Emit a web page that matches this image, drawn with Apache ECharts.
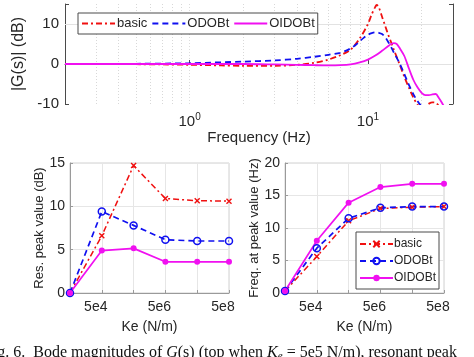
<!DOCTYPE html>
<html><head><meta charset="utf-8">
<script src="https://cdn.jsdelivr.net/npm/echarts@6/dist/echarts.min.js"></script>
<style>html,body{margin:0;padding:0;background:#fff;}#c{width:474px;height:357px;}</style>
</head><body><div id="c"></div>
<script>
// ---- Top: Bode magnitude |G(s)| (dB) vs frequency (Hz) ----
const basicFreq = [0.2,0.3,0.5,0.7,1,1.5,2,3,4,5,6,7,8,9,10,10.5,11,11.2,11.5,12,12.5,13,13.5,14,15,16,17,18,19,20,21,22,23,24,25,26,28,30];
const basicMag  = [0,0,-0.05,-0.1,-0.2,-0.35,-0.45,-0.45,-0.2,0.3,1.1,2.2,3.6,6.4,10,12.4,14.3,14.75,14.2,11.8,9.5,7.3,5.4,3.5,0.1,-3.2,-6,-8.4,-10.2,-11,-10.6,-9.9,-9.6,-9.7,-10.5,-12,-14,-16];
const odobFreq  = [0.2,0.5,1,2,3,4,5,6,7,7.5,8,8.5,9,9.5,10,10.5,11,11.5,12,12.5,13,13.5,14,15,16,17,18,19,20,22,25,30];
const odobMag   = [0,0.05,0.2,0.6,0.9,1.3,1.8,2.3,2.8,3.3,3.9,4.7,5.7,6.6,7.3,7.7,7.9,7.8,7.5,6.7,5.5,4.2,2.8,0.3,-2.5,-5.3,-7.6,-9.3,-10.6,-12.5,-15,-18];
const oidobFreq = [0.2,0.5,1,2,3,4,5,6,7,8,9,10,11,12,13,13.5,14,14.5,15,16,17,18,19,20,21,22,23,24,25,26,27,28,30];
const oidobMag  = [0,0,0,0,-0.1,-0.2,-0.3,-0.35,-0.3,-0.1,0.4,1.1,2.1,3.3,4.5,5.0,5.2,5.0,4.1,2.0,-1.2,-4,-5.9,-7.2,-7.8,-7.8,-7.6,-7.5,-8.5,-9.7,-11,-12.5,-15];
const minorFreqs = [0.3,0.4,0.5,0.6,0.7,0.8,0.9,2,3,4,5,6,7,8,9,20];
const magTicks = [-10, 0, 10];

// ---- Bottom: resonant peak value and its frequency vs Ke ----
const keCats = ['5e3','5e4','5e5','5e6','5e7','5e8'];
const keShown = ['5e4','5e6','5e8'];
const peakBasic = [0,6.6,14.7,10.9,10.65,10.6];
const peakOdob  = [0,9.4,7.8,6.15,6.0,6.0];
const peakOidob = [0,4.9,5.15,3.6,3.6,3.6];
const freqBasic = [0.3,5.6,11.1,13.0,13.2,13.3];
const freqOdob  = [0.3,6.9,11.5,13.1,13.3,13.3];
const freqOidob = [0.3,8.05,13.9,16.3,16.8,16.8];

const RED = '#f01010', BLUE = '#1010f0', MAG = '#f010f0';
const TXT = '#262626';
const FONT = 'Liberation Sans, Arial, sans-serif';
const CROSS = 'path://M0,0L10,10M0,10L10,0';
const AX = '#4a4a4a';

const chart = echarts.init(document.getElementById('c'), null, {renderer: 'canvas'});
const zip = (a, b) => a.map((v, i) => [v, b[i]]);

function botX(gi) {
  return {
    type: 'category', gridIndex: gi, data: keCats, boundaryGap: false,
    axisLine: {lineStyle: {color: '#9a9a9a'}},
    axisTick: {inside: true, length: 3, interval: 0, lineStyle: {color: '#9a9a9a'}},
    axisLabel: {color: TXT, fontSize: 14, fontFamily: FONT, margin: 7, padding: [0, 12, 0, 0],
      interval: 0, formatter: v => keShown.indexOf(v) >= 0 ? v : ''},
    splitLine: {show: true, interval: 0, lineStyle: {color: '#e6e6e6'}},
    name: 'Ke (N/m)', nameLocation: 'middle', nameGap: 27,
    nameTextStyle: {color: TXT, fontSize: 14, fontFamily: FONT}
  };
}
function botY(gi, max, name, gap, fs) {
  return {
    type: 'value', gridIndex: gi, min: 0, max: max, interval: 5,
    axisLine: {show: true, lineStyle: {color: '#9a9a9a'}},
    axisTick: {show: true, inside: true, length: 3, lineStyle: {color: '#9a9a9a'}},
    axisLabel: {color: TXT, fontSize: 14, fontFamily: FONT, margin: 5},
    splitLine: {show: true, lineStyle: {color: '#e6e6e6'}},
    name: name, nameLocation: 'middle', nameGap: gap,
    nameTextStyle: {color: TXT, fontSize: fs, fontFamily: FONT}
  };
}

const gridLineData = minorFreqs.map(f => ({xAxis: f}))
  .concat(magTicks.filter(v => v > -10).map(v => ({yAxis: v, lineStyle: {color: '#e2e2e2', type: 'solid'}})));

const option = {
  animation: false,
  backgroundColor: '#fff',
  textStyle: {fontFamily: FONT},
  grid: [
    {left: 65, right: 21, top: 4, height: 100, show: false},
    {left: 70, right: 245, top: 163, height: 130, show: true, borderColor: '#d0d0d0', borderWidth: 1},
    {left: 285, right: 30, top: 163, height: 130, show: true, borderColor: '#d0d0d0', borderWidth: 1}
  ],
  legend: [
    {
      left: 78, top: 13, orient: 'horizontal',
      data: ['basic', 'ODOBt', 'OIDOBt'],
      itemWidth: 33, itemHeight: 14, itemGap: 4,
      padding: [4, 3, 4, 3],
      backgroundColor: '#fff', borderColor: AX, borderWidth: 1,
      itemStyle: {opacity: 0},
      textStyle: {color: TXT, fontSize: 13, fontFamily: FONT, padding: [0, 0, 0, -3]}
    },
    {
      left: 356, top: 232, orient: 'vertical',
      data: ['basic ', 'ODOBt ', 'OIDOBt '],
      formatter: n => n.trim(),
      itemWidth: 33, itemHeight: 8, itemGap: 3,
      padding: [5, 3, 4, 3],
      backgroundColor: '#fff', borderColor: AX, borderWidth: 1,
      textStyle: {color: TXT, fontSize: 12, fontFamily: FONT, padding: [0, 0, 0, -4], lineHeight: 14}
    }
  ],
  xAxis: [
    {
      type: 'log', logBase: 10, gridIndex: 0, min: 0.2, max: 30,
      axisLine: {lineStyle: {color: AX}},
      axisTick: {inside: true, length: 4, lineStyle: {color: AX}},
      axisLabel: {
        color: TXT, fontSize: 15, fontFamily: FONT, margin: 8,
        formatter: v => {
          const l = Math.log10(v), r = Math.round(l);
          if (Math.abs(l - r) < 1e-6 && r >= 0) return '{b|10}{s|' + r + '}';
          return '';
        },
        rich: {b: {fontSize: 15, color: TXT, fontFamily: FONT}, s: {fontSize: 10, color: TXT, fontFamily: FONT, padding: [0, 0, 9, 0]}}
      },
      splitLine: {show: true, lineStyle: {color: '#dcdcdc', type: [1, 2]}},
      name: 'Frequency (Hz)', nameLocation: 'middle', nameGap: 15,
      nameTextStyle: {color: TXT, fontSize: 15, fontFamily: FONT}
    },
    botX(1), botX(2)
  ],
  yAxis: [
    {
      type: 'value', gridIndex: 0, min: -10, max: 15, interval: 10,
      axisLine: {show: true, lineStyle: {color: AX}},
      axisTick: {show: true, inside: true, length: 4, lineStyle: {color: AX}},
      axisLabel: {color: TXT, fontSize: 15, fontFamily: FONT, margin: 6,
        formatter: v => magTicks.indexOf(v) >= 0 ? String(v) : ''},
      splitLine: {show: false},
      name: '|G(s)| (dB)', nameLocation: 'middle', nameGap: 25,
      nameTextStyle: {color: TXT, fontSize: 16, fontFamily: FONT}
    },
    botY(1, 15, 'Res. peak value (dB)', 21, 13),
    botY(2, 20, 'Freq. at peak value (Hz)', 19, 13),
    {
      type: 'value', gridIndex: 0, min: -10, max: 15, interval: 10, position: 'right',
      axisLine: {show: true, lineStyle: {color: AX}}, axisLabel: {show: false}, splitLine: {show: false},
      axisTick: {show: true, inside: true, length: 4, lineStyle: {color: AX}}
    }
  ],
  series: [
    {
      type: 'line', name: 'basic', xAxisIndex: 0, yAxisIndex: 0, data: zip(basicFreq, basicMag),
      showSymbol: false, symbol: 'none', smooth: 0.3, clip: true,
      lineStyle: {color: RED, width: 1.8, type: [6, 3, 2, 3]}, itemStyle: {color: RED},
      markLine: {
        silent: true, symbol: 'none', label: {show: false}, animation: false, z: 1,
        lineStyle: {color: '#d8d8d8', width: 1, type: [1, 2]},
        data: gridLineData
      }
    },
    {
      type: 'line', name: 'ODOBt', xAxisIndex: 0, yAxisIndex: 0, data: zip(odobFreq, odobMag),
      showSymbol: false, symbol: 'none', smooth: 0.3, clip: true,
      lineStyle: {color: BLUE, width: 1.8, type: [6, 4]}, itemStyle: {color: BLUE}
    },
    {
      type: 'line', name: 'OIDOBt', xAxisIndex: 0, yAxisIndex: 0, data: zip(oidobFreq, oidobMag),
      showSymbol: false, symbol: 'none', smooth: 0.3, clip: true,
      lineStyle: {color: MAG, width: 1.8}, itemStyle: {color: MAG}
    },
    // bottom-left
    {
      type: 'line', name: 'basic ', xAxisIndex: 1, yAxisIndex: 1, data: peakBasic,
      symbol: CROSS, symbolSize: 5, showSymbol: true,
      lineStyle: {color: RED, width: 1.5, type: [6, 3, 2, 3]},
      itemStyle: {color: 'transparent', borderColor: RED, borderWidth: 1.4}
    },
    {
      type: 'line', name: 'ODOBt ', xAxisIndex: 1, yAxisIndex: 1, data: peakOdob,
      symbol: 'circle', symbolSize: 7, showSymbol: true,
      lineStyle: {color: BLUE, width: 1.7, type: [6, 4]},
      itemStyle: {color: 'transparent', borderColor: BLUE, borderWidth: 1.5}
    },
    {
      type: 'line', name: 'OIDOBt ', xAxisIndex: 1, yAxisIndex: 1, data: peakOidob,
      symbol: 'circle', symbolSize: 6, showSymbol: true,
      lineStyle: {color: MAG, width: 1.7}, itemStyle: {color: MAG}
    },
    // bottom-right
    {
      type: 'line', name: 'basic ', xAxisIndex: 2, yAxisIndex: 2, data: freqBasic,
      symbol: CROSS, symbolSize: 5, showSymbol: true,
      lineStyle: {color: RED, width: 1.5, type: [6, 3, 2, 3]},
      itemStyle: {color: 'transparent', borderColor: RED, borderWidth: 1.4}
    },
    {
      type: 'line', name: 'ODOBt ', xAxisIndex: 2, yAxisIndex: 2, data: freqOdob,
      symbol: 'circle', symbolSize: 7, showSymbol: true,
      lineStyle: {color: BLUE, width: 1.7, type: [6, 4]},
      itemStyle: {color: 'transparent', borderColor: BLUE, borderWidth: 1.5}
    },
    {
      type: 'line', name: 'OIDOBt ', xAxisIndex: 2, yAxisIndex: 2, data: freqOidob,
      symbol: 'circle', symbolSize: 6, showSymbol: true,
      lineStyle: {color: MAG, width: 1.7}, itemStyle: {color: MAG}
    }
  ],
  graphic: [
    {
      type: 'text', left: -16, top: 345, silent: true,
      style: {
        text: 'Fig. 6.  Bode magnitudes of {i|G}(s) (top when {i|K}{sub|e} = 5e5 N/m), resonant peak',
        fill: '#111', font: '16px "Liberation Serif", serif',
        rich: {
          i: {fontStyle: 'italic', fontSize: 16, fontFamily: 'Liberation Serif'},
          sub: {fontStyle: 'italic', fontSize: 11, fontFamily: 'Liberation Serif', padding: [0, 0, -7, 0]}
        }
      }
    }
  ]
};
chart.setOption(option);
</script>
</body></html>
